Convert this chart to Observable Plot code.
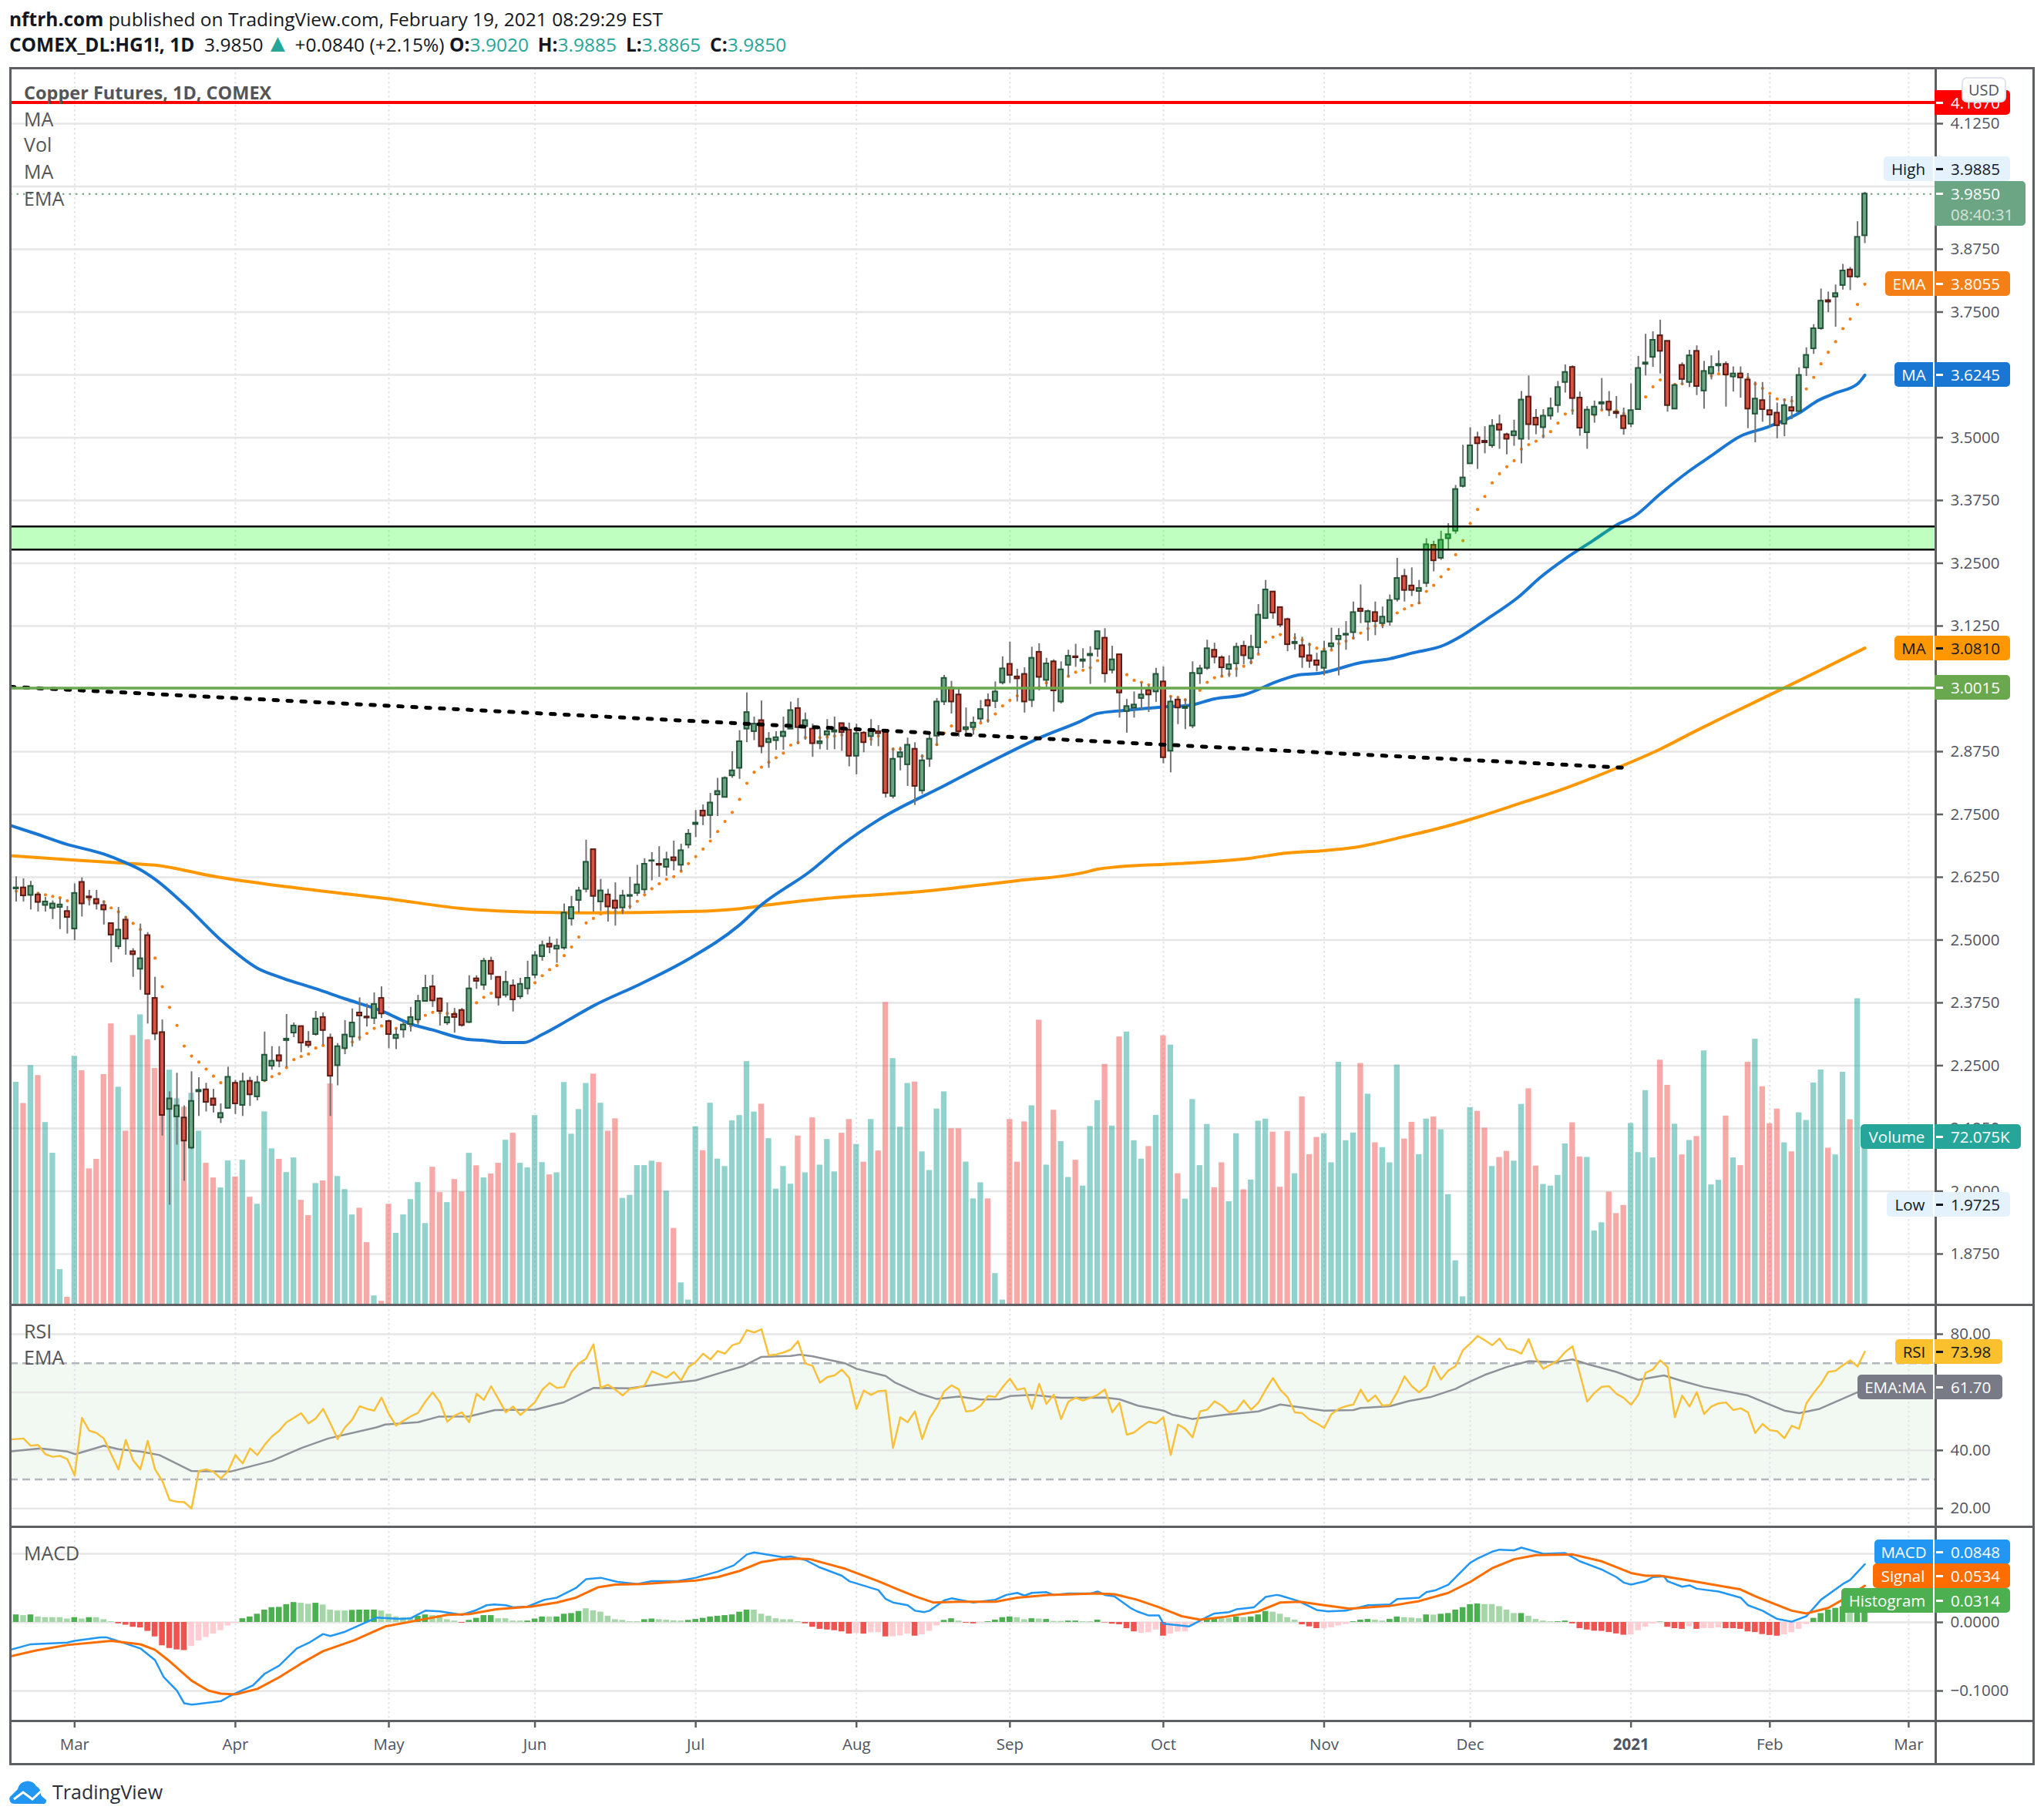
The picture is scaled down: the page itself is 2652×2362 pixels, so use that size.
<!DOCTYPE html>
<html><head><meta charset="utf-8">
<script src="https://cdn.jsdelivr.net/npm/d3@7"></script>
<script src="https://cdn.jsdelivr.net/npm/@observablehq/plot@0.6"></script>
<style>
html,body{margin:0;padding:0;background:#fff}
#page{position:relative;width:2652px;height:2362px;overflow:hidden;font-family:"Open Sans",sans-serif;color:#131722}
#page svg{position:absolute;left:0;overflow:visible;background:transparent}
.abs{position:absolute;white-space:nowrap}
.chrome{position:absolute;background:#5d5f63}
.tagL,.tagR{position:absolute;height:32px;line-height:32px;font-size:20.5px;text-align:center;box-sizing:border-box;white-space:nowrap}
.tagL{border-radius:5px 0 0 5px}
.tagR{border-radius:0 5px 5px 0;text-align:left;padding-left:21px}
.tick{position:absolute;left:2px;top:15px;width:9px;height:2.5px}
.pl{position:absolute;left:31px;font-size:25px;color:#555;white-space:nowrap;line-height:30px}
.gap{margin-left:5.5px}
</style></head><body><div id="page"></div>
<script>
const candleDir = "GRGRGGGRGR"+"RRRRGRRGRR"+"RGGRGGRRGG"+"RGRGGGRGGR"+"RGRRGGGRRG"+"RRGGGGGRRG"+"RRGRGRRGRG"+"GGGRGGGGGR"+"GRRGGGGGRG"+"RGGGRGGGGG"+"GGRGGGGRGR"+"GGGRRGRGRR"+"GGGRGGGGRR"+"GGGRGGRRRG"+"RGRGGRGGGR"+"GRGGGRGRGR"+"GGGGRRGGRG"+"GGRRRGRRRG"+"GGGGRGRGGG"+"RRGGRGGGGG"+"RRGRRGGRRG"+"GGGRRGGGRR"+"RGGGGRRGRG"+"RGGGRGRRGR"+"RRGRGGGGRG"+"GRGG";
const bodyTop = [2.604,2.604,2.607,2.590,2.576,2.572,2.570,2.557,2.593,2.615,
2.586,2.581,2.569,2.533,2.520,2.540,2.477,2.463,2.509,2.384,
2.316,2.184,2.170,2.146,2.179,2.201,2.202,2.184,2.155,2.227,
2.215,2.218,2.219,2.216,2.271,2.259,2.270,2.303,2.329,2.328,
2.297,2.343,2.346,2.305,2.288,2.311,2.335,2.355,2.347,2.372,
2.384,2.338,2.311,2.331,2.346,2.378,2.404,2.407,2.383,2.346,
2.352,2.360,2.403,2.423,2.458,2.458,2.426,2.416,2.409,2.412,
2.424,2.469,2.489,2.492,2.488,2.554,2.565,2.598,2.655,2.680,
2.598,2.590,2.578,2.588,2.589,2.610,2.651,2.658,2.651,2.660,
2.664,2.678,2.711,2.733,2.757,2.773,2.796,2.822,2.837,2.895,
2.953,2.930,2.937,2.900,2.903,2.914,2.957,2.961,2.937,2.920,
2.895,2.915,2.917,2.931,2.918,2.911,2.912,2.915,2.915,2.915,
2.860,2.873,2.888,2.880,2.857,2.900,2.974,3.021,3.002,2.988,
2.923,2.932,2.959,2.977,2.994,3.040,3.049,3.024,3.029,3.061,
3.073,3.050,3.054,3.038,3.065,3.064,3.058,3.069,3.114,3.101,
3.058,3.068,2.965,2.968,2.988,2.997,3.029,3.014,2.974,2.978,
2.964,3.031,3.040,3.080,3.077,3.062,3.048,3.083,3.085,3.083,
3.147,3.197,3.193,3.162,3.138,3.093,3.086,3.066,3.056,3.074,
3.090,3.105,3.109,3.152,3.159,3.154,3.152,3.143,3.176,3.220,
3.224,3.205,3.200,3.287,3.286,3.296,3.307,3.397,3.420,3.484,
3.500,3.493,3.523,3.526,3.506,3.512,3.575,3.581,3.539,3.543,
3.558,3.600,3.630,3.640,3.579,3.555,3.561,3.570,3.571,3.551,
3.543,3.554,3.638,3.649,3.694,3.703,3.692,3.604,3.644,3.663,
3.672,3.632,3.640,3.646,3.646,3.627,3.627,3.615,3.577,3.574,
3.554,3.549,3.564,3.560,3.624,3.664,3.717,3.772,3.773,3.787,
3.832,3.834,3.899,3.985];
const bodyBot = [2.602,2.588,2.589,2.575,2.569,2.563,2.565,2.545,2.522,2.572,
2.584,2.572,2.560,2.510,2.487,2.502,2.471,2.442,2.392,2.313,
2.151,2.163,2.148,2.100,2.086,2.198,2.177,2.171,2.146,2.165,
2.174,2.171,2.192,2.188,2.220,2.249,2.259,2.300,2.315,2.295,
2.290,2.312,2.320,2.229,2.250,2.284,2.307,2.349,2.345,2.344,
2.353,2.312,2.304,2.321,2.332,2.341,2.378,2.379,2.358,2.335,
2.346,2.330,2.336,2.418,2.410,2.432,2.385,2.390,2.381,2.387,
2.403,2.430,2.467,2.486,2.482,2.484,2.542,2.579,2.601,2.587,
2.576,2.566,2.563,2.564,2.587,2.593,2.600,2.657,2.649,2.645,
2.658,2.649,2.689,2.730,2.747,2.748,2.789,2.784,2.827,2.842,
2.920,2.915,2.885,2.893,2.897,2.905,2.920,2.923,2.925,2.891,
2.891,2.908,2.914,2.913,2.866,2.866,2.893,2.905,2.911,2.792,
2.786,2.864,2.849,2.806,2.797,2.860,2.906,2.974,2.974,2.915,
2.919,2.923,2.940,2.966,2.975,3.012,3.027,3.020,2.974,2.977,
3.023,3.017,2.996,2.974,3.047,3.062,3.055,3.066,3.079,3.030,
3.037,2.992,2.955,2.962,2.981,2.988,2.994,2.863,2.876,2.962,
2.961,2.926,3.030,3.041,3.063,3.042,3.039,3.050,3.066,3.060,
3.082,3.140,3.151,3.127,3.088,3.090,3.063,3.055,3.047,3.041,
3.084,3.098,3.107,3.112,3.154,3.133,3.134,3.130,3.133,3.178,
3.196,3.196,3.194,3.210,3.255,3.260,3.299,3.314,3.403,3.448,
3.488,3.490,3.484,3.515,3.497,3.504,3.497,3.526,3.525,3.520,
3.543,3.564,3.610,3.578,3.519,3.510,3.545,3.567,3.555,3.548,
3.518,3.527,3.556,3.646,3.660,3.672,3.564,3.557,3.616,3.610,
3.602,3.593,3.627,3.643,3.625,3.621,3.619,3.557,3.547,3.556,
3.545,3.524,3.527,3.553,3.552,3.639,3.677,3.717,3.770,3.780,
3.803,3.820,3.820,3.902];
const highs = [2.626,2.622,2.617,2.594,2.585,2.578,2.582,2.567,2.612,2.624,
2.599,2.599,2.578,2.533,2.565,2.547,2.483,2.532,2.515,2.426,
2.341,2.198,2.235,2.170,2.238,2.226,2.215,2.203,2.174,2.247,
2.221,2.235,2.227,2.229,2.317,2.288,2.288,2.352,2.335,2.328,
2.318,2.358,2.355,2.313,2.294,2.340,2.363,2.385,2.373,2.395,
2.407,2.341,2.324,2.338,2.366,2.390,2.430,2.430,2.385,2.375,
2.364,2.364,2.429,2.429,2.464,2.466,2.426,2.438,2.421,2.424,
2.458,2.477,2.498,2.506,2.502,2.572,2.587,2.605,2.699,2.680,
2.621,2.601,2.614,2.599,2.625,2.649,2.662,2.674,2.686,2.675,
2.697,2.691,2.720,2.758,2.769,2.792,2.822,2.825,2.875,2.917,
2.992,2.944,2.976,2.913,2.915,2.944,2.974,2.981,2.952,2.930,
2.922,2.939,2.944,2.932,2.932,2.930,2.915,2.939,2.927,2.915,
2.882,2.884,2.902,2.893,2.869,2.915,2.981,3.027,3.015,3.001,
2.962,2.944,2.977,2.990,3.014,3.064,3.093,3.039,3.042,3.083,
3.090,3.061,3.058,3.054,3.077,3.089,3.080,3.084,3.114,3.120,
3.085,3.068,2.979,2.994,3.012,3.007,3.041,3.044,2.985,2.983,
2.980,3.054,3.047,3.097,3.091,3.066,3.066,3.091,3.095,3.107,
3.168,3.216,3.193,3.162,3.141,3.110,3.103,3.091,3.071,3.095,
3.121,3.120,3.134,3.173,3.207,3.157,3.173,3.163,3.187,3.260,
3.238,3.241,3.216,3.299,3.294,3.314,3.329,3.405,3.485,3.520,
3.511,3.522,3.536,3.545,3.509,3.535,3.592,3.623,3.556,3.556,
3.579,3.612,3.645,3.643,3.591,3.562,3.573,3.618,3.592,3.582,
3.559,3.607,3.662,3.706,3.711,3.734,3.692,3.607,3.649,3.674,
3.683,3.652,3.663,3.673,3.651,3.641,3.641,3.628,3.611,3.610,
3.584,3.569,3.577,3.582,3.639,3.679,3.725,3.796,3.790,3.804,
3.845,3.839,3.930,3.9885];
const lows = [2.576,2.576,2.560,2.556,2.556,2.541,2.521,2.512,2.499,2.546,
2.568,2.560,2.530,2.455,2.481,2.470,2.426,2.400,2.333,2.300,
2.110,1.9725,2.092,2.020,2.083,2.149,2.158,2.156,2.135,2.165,
2.153,2.149,2.169,2.180,2.217,2.241,2.246,2.246,2.306,2.276,
2.285,2.309,2.291,2.149,2.210,2.272,2.287,2.299,2.327,2.332,
2.344,2.284,2.282,2.305,2.317,2.330,2.378,2.366,2.329,2.330,
2.315,2.327,2.334,2.402,2.400,2.420,2.369,2.385,2.357,2.382,
2.391,2.423,2.458,2.473,2.454,2.480,2.528,2.554,2.594,2.556,
2.557,2.536,2.528,2.551,2.561,2.587,2.592,2.618,2.625,2.627,
2.638,2.636,2.682,2.704,2.728,2.702,2.746,2.783,2.822,2.820,
2.893,2.897,2.871,2.842,2.878,2.878,2.919,2.889,2.898,2.864,
2.879,2.878,2.879,2.876,2.845,2.829,2.873,2.886,2.885,2.783,
2.781,2.837,2.806,2.768,2.790,2.844,2.886,2.967,2.950,2.904,
2.911,2.908,2.933,2.932,2.961,3.008,3.011,2.974,2.952,2.963,
2.996,3.003,2.954,2.970,3.023,3.043,3.041,3.009,3.063,3.012,
3.030,2.942,2.912,2.942,2.958,2.953,2.973,2.851,2.833,2.929,
2.919,2.921,3.009,3.037,3.050,3.023,3.023,3.023,3.048,3.048,
3.069,3.139,3.139,3.122,3.074,3.077,3.041,3.041,3.034,3.026,
3.077,3.026,3.077,3.098,3.130,3.095,3.106,3.120,3.125,3.173,
3.173,3.184,3.168,3.202,3.233,3.256,3.278,3.308,3.400,3.447,
3.437,3.468,3.479,3.477,3.466,3.483,3.448,3.495,3.506,3.498,
3.535,3.549,3.589,3.545,3.503,3.477,3.529,3.554,3.542,3.538,
3.505,3.520,3.556,3.623,3.640,3.627,3.551,3.556,3.605,3.600,
3.584,3.557,3.615,3.630,3.561,3.591,3.579,3.518,3.490,3.531,
3.521,3.498,3.502,3.536,3.551,3.622,3.666,3.714,3.749,3.720,
3.794,3.793,3.817,3.8865];
const emaDots = [2.597,2.596,2.594,2.593,2.590,2.587,2.584,2.578,2.578,2.582,
2.581,2.578,2.576,2.564,2.556,2.545,2.533,2.521,2.494,2.464,
2.407,2.366,2.330,2.289,2.269,2.257,2.243,2.229,2.216,2.218,
2.216,2.215,2.216,2.216,2.220,2.228,2.234,2.246,2.262,2.268,
2.273,2.285,2.290,2.280,2.278,2.285,2.297,2.306,2.314,2.324,
2.329,2.326,2.324,2.325,2.329,2.338,2.350,2.356,2.355,2.354,
2.355,2.352,2.369,2.375,2.386,2.394,2.392,2.395,2.393,2.401,
2.405,2.415,2.429,2.441,2.449,2.469,2.486,2.506,2.534,2.543,
2.552,2.556,2.557,2.558,2.567,2.577,2.590,2.602,2.612,2.621,
2.626,2.637,2.652,2.666,2.681,2.697,2.716,2.736,2.754,2.780,
2.812,2.834,2.844,2.854,2.863,2.872,2.888,2.893,2.903,2.903,
2.903,2.904,2.906,2.908,2.902,2.898,2.898,2.900,2.906,2.883,
2.880,2.880,2.880,2.856,2.866,2.871,2.889,2.912,2.926,2.915,
2.919,2.920,2.932,2.937,2.950,2.966,2.977,2.986,2.985,2.998,
3.003,3.012,3.012,3.013,3.025,3.033,3.037,3.042,3.056,3.055,
3.039,3.035,3.028,3.017,3.013,3.008,3.008,2.990,2.985,2.983,
2.978,2.985,2.997,3.013,3.022,3.025,3.029,3.040,3.045,3.053,
3.069,3.093,3.103,3.108,3.093,3.101,3.097,3.088,3.081,3.079,
3.077,3.090,3.095,3.101,3.111,3.120,3.125,3.127,3.136,3.151,
3.159,3.166,3.171,3.194,3.206,3.223,3.238,3.267,3.295,3.329,
3.357,3.383,3.410,3.428,3.442,3.454,3.477,3.486,3.493,3.503,
3.512,3.529,3.547,3.554,3.551,3.540,3.545,3.555,3.554,3.554,
3.548,3.549,3.564,3.581,3.601,3.615,3.600,3.606,3.607,3.614,
3.612,3.607,3.623,3.627,3.625,3.626,3.627,3.619,3.607,3.598,
3.588,3.577,3.575,3.573,3.584,3.597,3.620,3.647,3.670,3.691,
3.717,3.736,3.765,3.8055];
// volume in thousands; first value is the partly clipped bar before the first candle
const volumes = [117,95.7,86.6,102.9,98.6,78.4,65.2,15.2,3.3,106.9,100.7,
58.5,62.6,99,120.8,93.6,74.7,115.8,124.7,113.9,101.6,
87,100.9,88.6,85,91,74.7,60.9,54.6,50.3,61.9,
55,62.2,46.3,43.3,83,67.1,62.6,56.9,63.2,45,
38.4,52.2,53.3,95,55.2,49.6,38.7,41.6,26.8,3.9,
1.6,43.3,30.8,38.7,45.3,52.6,35,59.2,48.3,44,
53.9,48.6,65.2,59.8,54.6,56.3,60.9,70.8,73.8,60.9,
58.9,81.4,61.2,55.9,56.8,95.6,73.4,84,95.2,99.2,
86.7,74.7,80,45.8,47.1,59.9,59.9,61.8,61.2,48.9,
32.9,9.5,2.1,76.6,66.3,86.7,62.7,59.5,79.1,81.4,
104.6,82.9,86.3,71.5,49.8,59.5,51.9,72.6,56.8,80.4,
60.1,71.1,57.2,73.8,79.7,69,61.4,79.7,66.2,130,
105.9,76.4,95.2,95.8,65.8,57.8,84.2,91.6,75.7,75.7,
61.4,45.6,52.5,45.6,13.5,2.1,79.7,61.4,78.7,85.6,
122.4,60.1,83.7,70.2,54.8,62.2,51.1,76.7,87.8,103.4,
76.9,115.2,117.3,70.6,62.7,68.1,81.5,115.7,111.7,56.4,
45.5,88.3,59.9,77.6,50.4,61.1,44.4,73.6,49.5,53.7,
79,79.9,74.3,50.6,74.6,56.4,89.4,64.6,72,73.6,
61.1,104.3,70.6,73.9,103.8,90.6,69.7,67.6,61.1,103.1,
71.3,78.5,64.6,79.9,80.8,75.3,47.4,19,3.5,84.8,
83.2,76,59.5,63.4,66,61.8,86.2,92.9,59.7,51.8,
51.1,55.7,69.2,78.3,63.6,63.4,31.8,35.3,48.5,39.3,
42.8,78,65.5,92.1,63.2,105.2,94.4,77.7,64.5,70.7,
72.4,109.2,51.6,53.6,81.2,63.2,59.9,104.3,114.2,93.8,
77.9,84.2,69.7,65.8,82.6,79.3,95.4,101,67.4,64.5,
100,79.6,131.6,72.075];
const maBlueK = [-1,2.6,6.8,12,14.8,17,19,23.3,28,33,36.5,41,45,50,54,57,61.5,64,67,69.5,72,75.6,79,85.5,92,99,102,108.6,113,118,127,135,140,145.6,148,151.6,157,160.5,164,168,173,175.6,178.4,184,188,191,195.4,198,201,205.7,208.6,212,215.8,219,221.5,225,229,232,236,239.5,244,246.6,249,252,253];
const maBlueV = [2.729,2.712,2.691,2.671,2.655,2.640,2.621,2.567,2.500,2.444,2.424,2.403,2.383,2.359,2.333,2.321,2.303,2.300,2.296,2.296,2.312,2.341,2.369,2.413,2.462,2.530,2.570,2.636,2.689,2.739,2.807,2.867,2.902,2.935,2.951,2.957,2.964,2.967,2.980,2.988,3.017,3.028,3.031,3.052,3.060,3.071,3.087,3.107,3.136,3.184,3.222,3.259,3.295,3.326,3.344,3.388,3.434,3.464,3.503,3.520,3.549,3.574,3.589,3.607,3.6245];
const maOrangeK = [-1,8,14.8,19,27,37,51,61.5,72,78,93,98,102,107,111,125,131,137,146,148,151,159,169,173.7,179,183,190,195.4,199,206,211,219,225,229.7,234,242,248,253];
const maOrangeV = [2.668,2.659,2.653,2.649,2.627,2.606,2.582,2.562,2.555,2.554,2.557,2.561,2.568,2.577,2.583,2.598,2.608,2.618,2.634,2.641,2.646,2.652,2.663,2.673,2.678,2.684,2.706,2.725,2.740,2.773,2.797,2.842,2.880,2.915,2.946,3.002,3.045,3.081];
// RSI starts one bar before the first candle
const rsiVals = [43.7,43.9,44.1,41.6,41.9,38.7,37.8,38.1,37,31.4,51.2,
46.8,46,44.1,38.7,33.5,43.6,36.6,33.5,43.3,33.5,
29.5,22.9,22.3,22.2,20,32.9,33.5,32.7,30.3,32.9,
38.4,35.5,40.7,38.4,41.9,44.8,46.8,49.7,51.2,52.8,
49.3,51,54.3,49.3,43.9,47.9,50.6,55.2,54.3,53.7,
58.2,52.5,48.5,50.2,51.7,52.9,56.8,60,56.6,49.9,
52,53.1,49.7,59.5,57.4,62.1,57.7,53.1,55.1,52.2,
54.3,56.6,60.9,63.2,61.5,61.8,67,69.9,71.6,76.5,
61.5,62.6,60.9,58.9,61.2,61.5,62.4,67.2,66.2,65,
67,64.1,68.7,70.4,73.3,71.3,74.2,73.3,76.2,77,
81.4,80.6,81.7,72.7,73,73.7,74.7,77.6,69.9,69.1,
63.3,65.2,65.8,67.8,65,54.3,60.6,59.1,60.4,60.6,
40.8,51.4,49.7,53.4,43.9,51,54.9,60.3,62.4,61,
53.4,53.7,55.4,58.7,58.4,61.8,64.7,60.9,61.4,54.3,
62.9,56,59.2,50.8,56.8,58.1,57.2,58.1,59.1,61,
53.1,56.4,45.4,46.2,48.2,49.9,49.3,51.4,38.4,48.9,
47.4,44.5,53.4,54,56.9,55.4,53.1,53.8,57.2,54,
56.4,60.9,64.9,60.9,58.3,53.1,52.8,50.6,49.3,47.7,
52.5,54.3,55.2,55.8,60.9,56.8,58.9,55.4,55.7,60,
65.5,62.1,60,62.1,69,64.4,67.5,69,74.5,76.8,
79.4,77.9,76.2,78.5,75,74.5,73.3,78.3,71.6,68.1,
69.5,71,73.9,75.8,66.4,56.8,59.8,61.9,62.1,59.5,
58.1,55.7,59.1,66.7,67.9,71,68.7,51.4,58.9,55.1,
60,52.5,55.1,56.2,56.5,53.9,54.5,53.1,46,49.1,
47,46.6,44.2,48.5,47.4,56.2,59.8,62.9,67,67.4,
69.3,71,68.9,73.98];
const rsiEmaK = [-1,3.3,7,8.1,12,14,17,19.6,24,29.3,35,39,42.7,49.3,50.5,55,57.8,62,65.5,71,75,79,84,86,93,96.4,99.5,102,106,107.3,109,113.4,115,119,120.3,123.7,126,129,132,134.6,136,139,143,149,151,153.5,157,158.2,161,165.5,170,173,179,183,184,188,190.6,193.5,197,199,201,204,207,210.7,213,215.2,219,222,225.5,228,231,237,242,244,246.8,252,253];
const rsiEmaV = [39.6,40.7,39.6,38.7,41.6,40.4,39.6,38.4,32.9,32.7,36.4,40.8,44.1,47.9,48.9,49.7,51.6,51.7,53.9,54,56.6,61.5,61.4,62.1,64.1,66.7,69,72.2,72.5,73,72.4,70,68.1,65.6,63.3,59.5,57.7,58.5,57.5,57.6,58.7,59.1,58.1,58.2,57.6,55.4,53.7,52.3,50.8,52.3,53.4,55.8,53.7,53.9,54.6,55.2,57,58.3,61.2,63.7,66,68.7,70.7,70.4,71.3,69.6,67,64.3,65.8,63.9,61.8,58.9,53.7,52.8,54.3,60,61.7];
const macdK = [-1,2,7,8,11.5,12.4,13.6,17,19,20.2,22,23,24,28,29.3,32.4,34,36,38.4,40.2,42,43,45,47,49.3,52.6,54,56,58,61,63,64.4,65.4,67,68,70,72.3,74,76.6,78,80,82.3,85,87,90.5,93,96,98.2,100,101,105,106,108,110,113,114,118,119,120,122,123,124.3,125,127,128,131,134,135.5,137,138,139,141,142,144,147,148,149,150.3,152.5,153.4,155,156.4,157,160.5,163,164,166,167,169.4,171,172.5,173,175.5,178,179.5,182,185,188,189,192,193,194.3,196,199,200,202,203,205,206,209,212,214,217,219,220,221,223,224,225.5,226,228,229,230,233,236,237,239,241,243,245,246,247,250,251,253];
const macdV = [-0.0407,-0.0319,-0.0294,-0.027,-0.022,-0.022,-0.026,-0.038,-0.055,-0.08,-0.0995,-0.118,-0.12,-0.115,-0.107,-0.092,-0.075,-0.063,-0.038,-0.029,-0.017,-0.02,-0.0137,-0.004,0.007,0.005,0.006,0.017,0.016,0.011,0.018,0.025,0.026,0.025,0.022,0.023,0.033,0.036,0.05,0.063,0.065,0.059,0.056,0.06,0.06,0.065,0.074,0.083,0.099,0.102,0.095,0.096,0.091,0.08,0.068,0.06,0.047,0.034,0.029,0.025,0.017,0.015,0.017,0.032,0.035,0.029,0.033,0.04,0.043,0.039,0.043,0.044,0.04,0.042,0.042,0.045,0.04,0.038,0.021,0.016,0.01,0.01,-0.002,-0.006,0.008,0.013,0.015,0.019,0.022,0.037,0.04,0.039,0.031,0.018,0.016,0.017,0.025,0.026,0.034,0.036,0.044,0.047,0.055,0.087,0.093,0.103,0.106,0.105,0.109,0.1,0.101,0.089,0.077,0.066,0.058,0.055,0.06,0.066,0.067,0.06,0.052,0.054,0.049,0.045,0.036,0.025,0.017,0.005,0.001,0.009,0.021,0.033,0.056,0.062,0.0848];
const signalK = [-1,2.7,7,13,17,19,20.8,24,26.3,28,30,33,36,39,42,46.3,50.5,54,59,62,65.7,70.5,74,76.6,79.6,82,85.7,93,96,99,102,104.5,107,108.7,113.5,118,120.7,123,125.5,129,134,137,141.2,148,150.3,153.4,156.4,159.5,162,165.4,170,173,175.7,179,182.5,188,192,196,199,202,205,208,213,217,221,223,225,229,236,238,243,245,248,250.8,253];
const signalV = [-0.05,-0.041,-0.033,-0.027,-0.032,-0.04,-0.055,-0.085,-0.0995,-0.104,-0.105,-0.097,-0.08,-0.06,-0.042,-0.026,-0.006,0.001,0.011,0.012,0.019,0.023,0.029,0.036,0.051,0.055,0.056,0.061,0.066,0.075,0.088,0.092,0.093,0.092,0.078,0.06,0.048,0.038,0.029,0.03,0.03,0.036,0.04,0.042,0.041,0.033,0.022,0.009,0.004,0.008,0.016,0.029,0.03,0.025,0.02,0.024,0.031,0.043,0.059,0.079,0.092,0.098,0.099,0.089,0.072,0.068,0.068,0.061,0.048,0.038,0.017,0.013,0.021,0.038,0.0534];
// histogram starts one bar before the first candle; kinds: D rising above zero, L falling above zero, R falling below zero, P rising below zero
const histVals = [0.0098,0.011,0.01,0.011,0.008,0.007,0.007,0.007,0.005,0.007,0.005,
0.007,0.007,0.004,0.001,-0.002,-0.004,-0.007,-0.008,-0.013,-0.021,
-0.034,-0.038,-0.04,-0.041,-0.035,-0.027,-0.022,-0.017,-0.012,-0.005,
-0.001,0.0054,0.008,0.012,0.018,0.0216,0.022,0.026,0.029,0.028,
0.0265,0.028,0.0255,0.018,0.0167,0.0167,0.0176,0.018,0.018,0.018,
0.0167,0.012,0.008,0.007,0.007,0.009,0.011,0.01,0.01,0.004,
0.002,-0.001,0.003,0.006,0.01,0.01,0.0054,0.0054,0.002,0.002,
0.002,0.005,0.008,0.008,0.008,0.012,0.013,0.016,0.02,0.017,
0.015,0.009,0.004,0.003,0.001,0.001,0.004,0.005,0.004,0.0034,
0.0025,0.002,0.003,0.0044,0.006,0.008,0.009,0.01,0.011,0.015,
0.018,0.018,0.012,0.009,0.0054,0.004,0.004,0.001,-0.002,-0.007,
-0.01,-0.011,-0.012,-0.0137,-0.017,-0.016,-0.017,-0.015,-0.015,-0.021,
-0.021,-0.0196,-0.017,-0.02,-0.018,-0.013,-0.005,0.003,0.0054,0.002,
-0.001,-0.002,-0.0005,0.001,0.0034,0.007,0.008,0.007,0.004,0.0054,
0.005,0.0044,0.0015,0.0015,0.002,0.002,0.001,0.001,0.0034,-0.0005,
-0.0025,-0.0034,-0.009,-0.0137,-0.0157,-0.015,-0.011,-0.02,-0.017,-0.014,
-0.0137,-0.005,-0.002,0.005,0.0064,0.006,0.006,0.008,0.007,0.008,
0.011,0.016,0.015,0.012,0.007,0.0034,-0.0034,-0.0064,-0.009,-0.009,
-0.008,-0.005,-0.003,0.001,0.0034,0.0044,0.0034,0.002,0.0044,0.008,
0.007,0.0064,0.0054,0.011,0.0108,0.012,0.013,0.018,0.0216,0.026,
0.027,0.026,0.026,0.023,0.018,0.013,0.013,0.009,0.0044,0.002,
0.001,0.001,0.002,-0.002,-0.009,-0.011,-0.0127,-0.013,-0.0147,-0.0167,
-0.0186,-0.018,-0.012,-0.007,-0.0025,0.0005,-0.007,-0.009,-0.01,-0.0064,
-0.01,-0.009,-0.009,-0.008,-0.009,-0.009,-0.01,-0.0137,-0.0147,-0.0176,
-0.019,-0.02,-0.018,-0.015,-0.01,-0.003,0.006,0.013,0.018,0.0206,
0.023,0.018,0.023,0.0314];
const histKinds = "DDLDLLLLLDL"+"DLLLRRRRRR"+"RRRRPPPPPP"+"PDDDDDDDDL"+"LDLLLLDDDD"+"LLLLLDDLLL"+"LRDDDDLLLL"+"DDDLDDDDLL"+"LLLLLLDDLL"+"LLDDDDDDDD"+"DLLLLLLLRR"+"RRRRRPRPPR"+"PPPRPPPDDL"+"RRPDDDDLLD"+"LDLLDDLLDR"+"RRRRPPPRPP"+"PPPDDLLDLD"+"DDLLLLRRRP"+"PPPDDDLLDD"+"LLLDLDDDDD"+"DLLLLLDLLL"+"LDDRRRRRRR"+"RPPPPDRRRP"+"RPPPRRRRRR"+"RRPPPPDDDD"+"DLDD";
const monthIdx = [8,30,51,71,93,115,136,157,179,199,221,240,259];
const monthLabels = ["Mar","Apr","May","Jun","Jul","Aug","Sep","Oct","Nov","Dec","2021","Feb","Mar"];
const priceTicks = [1.875,2,2.125,2.25,2.375,2.5,2.625,2.75,2.875,3,3.125,3.25,3.375,3.5,3.625,3.75,3.875,4,4.125];
const rsiTicks = [20,40,60,80];
const macdTicks = [-0.1,0,0.1];
const trendK = [-0.8,220], trendV = [3.004,2.843];
const zoneTop = 3.323, zoneBottom = 3.277, resistance = 4.1670, support = 3.0015, lastClose = 3.985;

const UP="#6ba583",UPB="#225437",DN="#d75442",DNB="#5b1a13",WICK="#737375";
const GRID="#e6e6e6",VGRID="#e1e3e6",TXT="#50535e",FONT='"Open Sans",sans-serif';
const xDomain=[-0.791,262.7], ML=13, MR=141;
const bars=candleDir.split("").map((c,i)=>({k:i,up:c==="G",top:bodyTop[i],bot:bodyBot[i],hi:highs[i],lo:lows[i],ema:emaDots[i]}));
const volBars=volumes.map((v,i)=>({k:i-1,v,up:i===0?true:candleDir[i-1]==="G"}));
const rsiRows=rsiVals.map((v,i)=>({k:i-1,v}));
const histRows=histVals.map((v,i)=>({k:i-1,v,kind:histKinds[i]}));
const pairs=(K,V)=>K.map((k,i)=>({k,v:V[i]}));
const histColor={D:"#4caf50",L:"#a5d6a7",R:"#ef5350",P:"#ffcdd2"};
const mainY=[1.7737,4.2354];
const volToPrice=d3.scaleLinear([0,1],[mainY[0],mainY[0]+0.004632]);
const vGrid=()=>Plot.ruleX(monthIdx,{stroke:VGRID,strokeWidth:2,strokeDasharray:"2.5 3.5"});
const axis=(ticks,fmt)=>Plot.axisY({anchor:"right",ticks,tickFormat:fmt,tickSize:9,tickPadding:10,label:null,color:TXT,stroke:"#5d5f63",strokeWidth:2.5});
const base=(h,extra={})=>({width:2652,height:h,marginLeft:ML,marginRight:MR,marginTop:0,marginBottom:0,
  style:{background:"transparent",fontFamily:FONT,fontSize:"20.5px",color:TXT},...extra});

const main=Plot.plot(base(1605,{
  x:{domain:xDomain,axis:null},
  y:{domain:mainY,axis:null},
  marks:[
    vGrid(),
    Plot.ruleY(priceTicks,{stroke:GRID,strokeWidth:2.5}),
    Plot.rect(volBars,{x1:d=>d.k-0.385,x2:d=>d.k+0.385,y1:()=>mainY[0]+0.001,y2:d=>volToPrice(d.v),fill:d=>d.up?"#26a69a":"#ef5350",fillOpacity:0.5,clip:true}),
    Plot.ruleY([lastClose],{stroke:UP,strokeWidth:2,strokeDasharray:"2.5 6"}),
    Plot.dot(bars,{x:"k",y:"ema",r:2.1,fill:"#f57f17",stroke:null}),
    Plot.line(pairs(maOrangeK,maOrangeV),{x:"k",y:"v",stroke:"#ff9800",strokeWidth:4,curve:"monotone-x",clip:true}),
    Plot.line(pairs(maBlueK,maBlueV),{x:"k",y:"v",stroke:"#1976d2",strokeWidth:4,curve:"monotone-x",clip:true}),
    Plot.ruleX(bars,{x:"k",y1:"lo",y2:"hi",stroke:WICK,strokeWidth:2}),
    Plot.rect(bars,{x1:d=>d.k-0.31,x2:d=>d.k+0.31,y1:"bot",y2:"top",fill:d=>d.up?UP:DN,stroke:d=>d.up?UPB:DNB,strokeWidth:2}),
    Plot.line(pairs(trendK,trendV),{x:"k",y:"v",stroke:"#000",strokeWidth:5,strokeDasharray:"5.5 12.5",clip:true}),
    Plot.ruleY([support],{stroke:"#6aa84f",strokeWidth:3.5}),
    Plot.rect([{t:zoneTop,b:zoneBottom}],{x1:xDomain[0],x2:xDomain[1],y1:"b",y2:"t",fill:"#00ff00",fillOpacity:0.25}),
    Plot.ruleY([zoneTop,zoneBottom],{stroke:"#000",strokeWidth:2.5}),
    Plot.ruleY([resistance],{stroke:"#ff0000",strokeWidth:4}),
    axis(priceTicks,d=>d.toFixed(4))
  ]}));

const rsi=Plot.plot(base(288,{
  x:{domain:xDomain,axis:null},
  y:{domain:[13.7,90.08],axis:null},
  marks:[
    Plot.rect([{a:30,b:70}],{x1:xDomain[0],x2:xDomain[1],y1:"a",y2:"b",fill:"#4caf50",fillOpacity:0.07}),
    vGrid(),
    Plot.ruleY(rsiTicks,{stroke:GRID,strokeWidth:2.5}),
    Plot.ruleY([30,70],{stroke:"#b2b5be",strokeWidth:2.5,strokeDasharray:"10 6"}),
    Plot.line(pairs(rsiEmaK,rsiEmaV),{x:"k",y:"v",stroke:"#8f9298",strokeWidth:2.5,clip:true}),
    Plot.line(rsiRows,{x:"k",y:"v",stroke:"#f7c13c",strokeWidth:2.5,clip:true}),
    axis(rsiTicks,d=>d.toFixed(2))
  ]}));

const macd=Plot.plot(base(309,{
  marginBottom:57,
  x:{domain:xDomain,axis:null},
  y:{domain:[-0.1438,0.1393],axis:null},
  marks:[
    vGrid(),
    Plot.ruleY(macdTicks,{stroke:GRID,strokeWidth:2.5}),
    Plot.rect(histRows,{x1:d=>d.k-0.4,x2:d=>d.k+0.4,y1:()=>0,y2:"v",fill:d=>histColor[d.kind],clip:true}),
    Plot.line(pairs(macdK,macdV),{x:"k",y:"v",stroke:"#2196f3",strokeWidth:2.5,clip:true}),
    Plot.line(pairs(signalK,signalV),{x:"k",y:"v",stroke:"#ff6d00",strokeWidth:3,clip:true}),
    axis(macdTicks,d=>(d<0?"\u2212":"")+Math.abs(d).toFixed(4)),
    Plot.axisX({anchor:"bottom",ticks:monthIdx.filter((_,i)=>monthLabels[i]!=="2021"),tickFormat:k=>monthLabels[monthIdx.indexOf(k)],tickSize:9,tickPadding:14,label:null,color:TXT,stroke:"#5d5f63",strokeWidth:2.5}),
    Plot.axisX({anchor:"bottom",ticks:monthIdx.filter((_,i)=>monthLabels[i]==="2021"),tickFormat:k=>monthLabels[monthIdx.indexOf(k)],tickSize:9,tickPadding:14,label:null,color:TXT,stroke:"#5d5f63",strokeWidth:2.5,fontWeight:"bold"})
  ]}));

const page=document.getElementById("page");
const tops=[[main,88],[rsi,1693],[macd,1981]];
tops.forEach(([p,t])=>{p.style.top=t+"px";page.appendChild(p);});
const el=(cls,css,html)=>{const d=document.createElement("div");d.className=cls;Object.assign(d.style,css);if(html!=null)d.innerHTML=html;page.appendChild(d);return d;};
// frame
el("chrome",{left:"12px",top:"87px",width:"2628px",height:"3px"});
el("chrome",{left:"12px",top:"2288px",width:"2628px",height:"3px"});
el("chrome",{left:"12px",top:"87px",width:"3px",height:"2204px"});
el("chrome",{left:"2637px",top:"87px",width:"3px",height:"2204px"});
el("chrome",{left:"2510px",top:"87px",width:"2.5px",height:"2204px"});
[1692,1980,2232].forEach(y=>el("chrome",{left:"12px",top:y+"px",width:"2628px",height:"3px"}));
// header
el("abs",{left:"12px",top:"8px",fontSize:"24.5px",lineHeight:"34px"},'<b>nftrh.com</b> published on TradingView.com, February 19, 2021 08:29:29 EST');
const teal="#26a69a";
el("abs",{left:"12px",top:"41px",fontSize:"24.5px",lineHeight:"34px"},`<b>COMEX_DL:HG1!, 1D</b>&nbsp; 3.9850<span style="color:${teal};font-size:32px;line-height:0;margin-left:3px">▲</span> +0.0840 (+2.15%) <b>O:</b><span style="color:${teal}">3.9020</span> <b class="gap">H:</b><span style="color:${teal}">3.9885</span> <b class="gap">L:</b><span style="color:${teal}">3.8865</span> <b class="gap">C:</b><span style="color:${teal}">3.9850</span>`);
// pane legends
[["Copper Futures, 1D, COMEX",105,true],["MA",139],["Vol",172],["MA",207],["EMA",242],["RSI",1712],["EMA",1746],["MACD",2000]].forEach(([t,y,b])=>el("pl",{top:y+"px",fontWeight:b?"bold":"normal",fontSize:b?"23.5px":null},t));
// logo
el("abs",{left:"12px",top:"2308px",width:"52px",height:"34px"},'<svg style="position:static" width="52" height="34" viewBox="0 0 52 34"><path d="M6 33a6 6 0 0 1-3-11l8-8a13 13 0 0 1 24-4 11 11 0 0 1 6 12l7 6a4 4 0 0 1-3 5z" fill="#2196f3"/><path d="M6 27l12-9 12 9 14-13" fill="none" stroke="#fff" stroke-width="3"/></svg>');
el("abs",{left:"68px",top:"2306px",fontSize:"25px",lineHeight:"38px",color:"#2a2e39"},"TradingView");
// price tags
const AX=2510;
function tag(cy,left,right,label,value,bg,fg,tickCol){
  const top=Math.round(cy-16)+"px";
  if(label!==null)el("tagL",{left:left+"px",top,width:(AX-2-left)+"px",background:bg,color:fg},label);
  const r=el("tagR",{left:AX+"px",top,width:(right-AX)+"px",background:bg,color:fg},value);
  const t=document.createElement("div");t.className="tick";t.style.background=tickCol||fg;r.appendChild(t);
}
const py=v=>88+main.scale("y").apply(v), ry=v=>1693+rsi.scale("y").apply(v), my=v=>1981+macd.scale("y").apply(v);
tag(py(resistance),0,2608,null,"4.1670","#ff0000","#fff");
tag(219,2444,2608,"High","3.9885","#e3f2fd","#131722");
// last price tag with countdown
const c=el("tagR",{left:AX+"px",top:Math.round(py(lastClose)-16)+"px",width:"118px",height:"58px",background:UP,color:"#fff",borderRadius:"0 5px 5px 0",lineHeight:"27px",paddingTop:"3px"},'3.9850<br><span style="opacity:.7">08:40:31</span>');
const ct=document.createElement("div");ct.className="tick";ct.style.background="#fff";c.appendChild(ct);
tag(py(3.8055),2446,2608,"EMA","3.8055","#f57f17","#fff");
tag(py(3.6245),2458,2608,"MA","3.6245","#1976d2","#fff");
tag(py(3.081),2458,2608,"MA","3.0810","#ff9800","#131722");
tag(py(support),2510,2608,null,"3.0015","#6aa84f","#fff");
tag(1475,2414,2622,"Volume","72.075K",teal,"#fff");
tag(py(1.9725),2448,2608,"Low","1.9725","#e3f2fd","#131722");
tag(ry(73.98),2459,2598,"RSI","73.98","#fbc02d","#131722");
tag(ry(61.7),2410,2598,"EMA:MA","61.70","#787b86","#fff");
tag(2014,2432,2608,"MACD","0.0848","#2196f3","#fff");
tag(2045,2430,2608,"Signal","0.0534","#ff6d00","#fff");
tag(my(0.0314),2389,2608,"Histogram","0.0314","#4caf50","#fff");
el("abs",{left:"2545px",top:"100px",width:"58px",height:"33px",background:"#fff",border:"2px solid #e0e3eb",borderRadius:"7px",boxSizing:"border-box",textAlign:"center",lineHeight:"29px",fontSize:"20px",color:"#50535e"},"USD");
</script></body></html>
